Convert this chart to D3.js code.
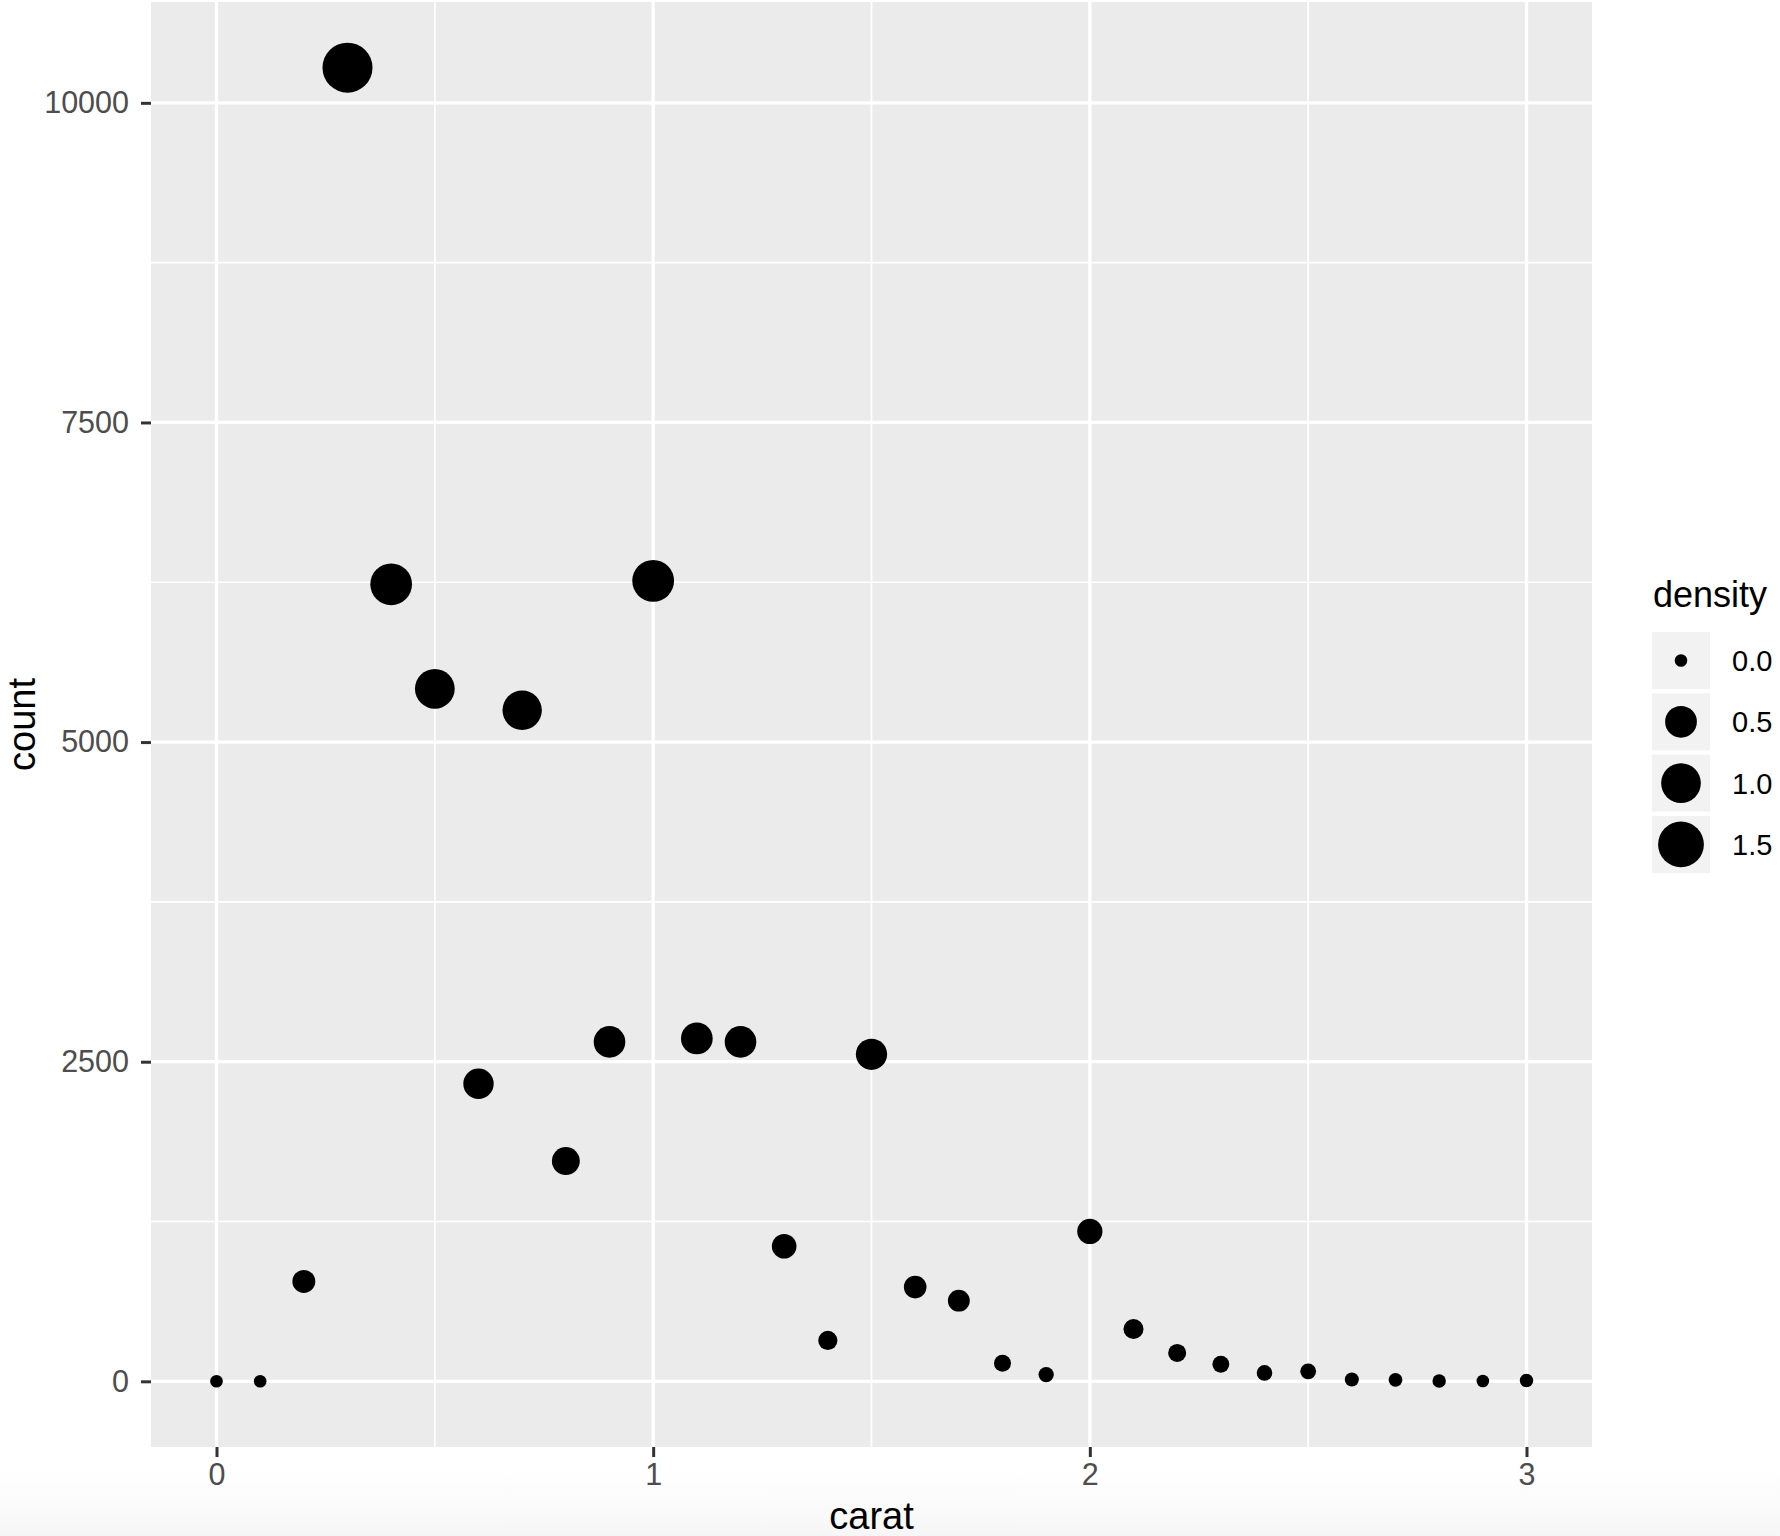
<!DOCTYPE html>
<html>
<head>
<meta charset="utf-8">
<script src="https://cdn.jsdelivr.net/npm/d3@7"></script>
<style>
  body { margin: 0; background: #fff; }
  text { font-family: "Liberation Sans", Arial, Helvetica, sans-serif; }
</style>
</head>
<body>
<div id="viz"></div>
<script>
// binned carat values (bin centres, width 0.1)
carat = [0.0, 0.1, 0.2, 0.3, 0.4, 0.5, 0.6, 0.7, 0.8, 0.9,
         1.0, 1.1, 1.2, 1.3, 1.4, 1.5, 1.6, 1.7, 1.8, 1.9,
         2.0, 2.1, 2.2, 2.3, 2.4, 2.5, 2.6, 2.7, 2.8, 2.9, 3.0];

counts = [0, 0, 781, 10275, 6234, 5417, 2327, 5249, 1723, 2655,
          6261, 2682, 2655, 1057, 320, 2558, 737, 631, 142, 53,
          1172, 409, 222, 133, 66, 78, 14, 12, 3, 2, 7];

density = [0, 0, 0.145, 1.905, 1.156, 1.004, 0.431, 0.973, 0.319, 0.492,
           1.161, 0.497, 0.492, 0.196, 0.059, 0.474, 0.137, 0.117, 0.026, 0.010,
           0.217, 0.076, 0.041, 0.025, 0.012, 0.014, 0.003, 0.002, 0.001, 0.000, 0.001];

xBreaks = [0, 1, 2, 3];
xMinor = [0.5, 1.5, 2.5];
yBreaks = [0, 2500, 5000, 7500, 10000];
yMinor = [1250, 3750, 6250, 8750];
sizeBreaks = [0, 0.5, 1.0, 1.5];

data = carat.map(function(c, i) {
	return {carat: c, count: counts[i], density: density[i]};
});

// dimensions
width = 1780;
height = 1536;
panel = {left: 151, right: 1592, top: 2, bottom: 1447};

// scales (ggplot style 5% expansion)
xMax = d3.max(carat);
xPad = xMax * 0.05;
xScale = d3.scaleLinear()
	.domain([-xPad, xMax + xPad])
	.range([panel.left, panel.right]);

yMax = d3.max(counts);
yPad = yMax * 0.05;
yScale = d3.scaleLinear()
	.domain([-yPad, yMax + yPad])
	.range([panel.bottom, panel.top]);

rScale = d3.scaleSqrt()
	.domain([0, d3.max(density)])
	.range([6.3, 25]);

svg = d3.select('#viz').append('svg')
	.attr('width', width)
	.attr('height', height);

// faint shadow at the bottom of the screenshot
grad = svg.append('defs').append('linearGradient')
	.attr('id', 'fade')
	.attr('x1', 0).attr('x2', 0).attr('y1', 0).attr('y2', 1);
grad.append('stop').attr('offset', '0%').attr('stop-color', '#ffffff');
grad.append('stop').attr('offset', '100%').attr('stop-color', '#f6f6f6');
svg.append('rect')
	.attr('x', 0).attr('y', 1470)
	.attr('width', width).attr('height', height - 1470)
	.attr('fill', 'url(#fade)');

// panel background
svg.append('rect')
	.attr('x', panel.left)
	.attr('y', panel.top)
	.attr('width', panel.right - panel.left)
	.attr('height', panel.bottom - panel.top)
	.attr('fill', '#ebebeb');

// minor grid
svg.selectAll('line.xminor')
	.data(xMinor)
	.enter().append('line')
	.attr('class', 'xminor')
	.attr('x1', d => xScale(d)).attr('x2', d => xScale(d))
	.attr('y1', panel.top).attr('y2', panel.bottom)
	.attr('stroke', '#fff').attr('stroke-width', 1.7);

svg.selectAll('line.yminor')
	.data(yMinor)
	.enter().append('line')
	.attr('class', 'yminor')
	.attr('x1', panel.left).attr('x2', panel.right)
	.attr('y1', d => yScale(d)).attr('y2', d => yScale(d))
	.attr('stroke', '#fff').attr('stroke-width', 1.7);

// major grid
svg.selectAll('line.xmajor')
	.data(xBreaks)
	.enter().append('line')
	.attr('class', 'xmajor')
	.attr('x1', d => xScale(d)).attr('x2', d => xScale(d))
	.attr('y1', panel.top).attr('y2', panel.bottom)
	.attr('stroke', '#fff').attr('stroke-width', 3.3);

svg.selectAll('line.ymajor')
	.data(yBreaks)
	.enter().append('line')
	.attr('class', 'ymajor')
	.attr('x1', panel.left).attr('x2', panel.right)
	.attr('y1', d => yScale(d)).attr('y2', d => yScale(d))
	.attr('stroke', '#fff').attr('stroke-width', 3.3);

// axes
xAxis = svg.append('g')
	.attr('transform', 'translate(0,' + panel.bottom + ')')
	.call(d3.axisBottom(xScale).tickValues(xBreaks).tickFormat(d3.format('d')).tickSize(10).tickPadding(6));

yAxis = svg.append('g')
	.attr('transform', 'translate(' + panel.left + ',0)')
	.call(d3.axisLeft(yScale).tickValues(yBreaks).tickFormat(d3.format('d')).tickSize(10).tickPadding(12));

[xAxis, yAxis].forEach(function(ax) {
	ax.select('.domain').remove();
	ax.selectAll('.tick line').attr('stroke', '#333333').attr('stroke-width', 3);
	ax.selectAll('.tick text')
		.attr('fill', '#4d4d4d')
		.style('font-size', '30.5px')
		.style('font-family', '"Liberation Sans", Arial, sans-serif');
});

// points
svg.selectAll('circle.pt')
	.data(data)
	.enter().append('circle')
	.attr('class', 'pt')
	.attr('cx', d => xScale(d.carat))
	.attr('cy', d => yScale(d.count))
	.attr('r', d => rScale(d.density))
	.attr('fill', '#000');

// axis titles
svg.append('text')
	.text('carat')
	.attr('x', (panel.left + panel.right) / 2)
	.attr('y', 1529)
	.attr('text-anchor', 'middle')
	.style('font-size', '38px')
	.attr('fill', '#000');

svg.append('text')
	.text('count')
	.attr('transform', 'translate(35,' + (panel.top + panel.bottom) / 2 + ') rotate(-90)')
	.attr('text-anchor', 'middle')
	.style('font-size', '38px')
	.attr('fill', '#000');

// legend
legend = svg.append('g').attr('transform', 'translate(1652,0)');

legend.append('text')
	.text('density')
	.attr('x', 1)
	.attr('y', 607)
	.style('font-size', '36px')
	.attr('fill', '#000');

keys = legend.selectAll('g.key')
	.data(sizeBreaks)
	.enter().append('g')
	.attr('class', 'key')
	.attr('transform', function(d, i) { return 'translate(0,' + (632 + i * 61.3) + ')'; });

keys.append('rect')
	.attr('width', 58)
	.attr('height', 57)
	.attr('fill', '#f2f2f2');

keys.append('circle')
	.attr('cx', 29)
	.attr('cy', 28.5)
	.attr('r', d => rScale(d))
	.attr('fill', '#000');

keys.append('text')
	.text(d => d3.format('.1f')(d))
	.attr('x', 80)
	.attr('y', 28.5)
	.attr('dy', '0.36em')
	.style('font-size', '29px')
	.attr('fill', '#000');
</script>
</body>
</html>
